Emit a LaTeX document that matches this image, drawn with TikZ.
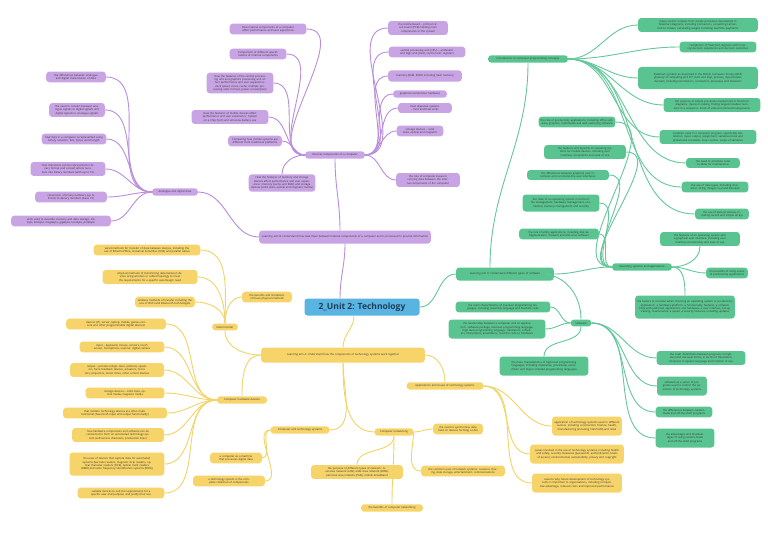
\documentclass[tikz,border=0pt]{standalone}
\usepackage{fontspec}
\setmainfont{Open Sans}
\begin{document}
\begin{tikzpicture}[x=1pt,y=-1pt,
 base/.style={rounded corners=3pt,align=center,inner xsep=1.8pt,inner ysep=2.3pt,font=\fontsize{2.7}{3.3}\selectfont,text=black!80},
 pn/.style={base,fill={rgb,255:red,200;green,164;blue,228}},
 gn/.style={base,fill={rgb,255:red,90;green,196;blue,145}},
 yn/.style={base,fill={rgb,255:red,246;green,212;blue,105}},
 pl/.style={draw={rgb,255:red,185;green,140;blue,220},line width=0.9pt},
 gl/.style={draw={rgb,255:red,100;green,200;blue,155},line width=0.9pt},
 yl/.style={draw={rgb,255:red,242;green,212;blue,100},line width=0.9pt}]
\useasboundingbox (0,0) rectangle (768,543);
\fill[white] (0,0) rectangle (768,543);
% center
\node[rounded corners=3pt,fill={rgb,255:red,90;green,180;blue,225},minimum width=115pt,minimum height=17pt,font=\bfseries\fontsize{8.5}{9}\selectfont,text={rgb,255:red,30;green,60;blue,90}] (c) at (362,307) {2\_Unit 2: Technology};
% ===== purple
\node[pn,text width=168pt,minimum height=13pt] (lb) at (345,237) {Learning aim B: Understand how data flows between internal components of a computer and is processed to provide information};
\node[pn,text width=56pt] (ic) at (335,155) {Internal components of a computer};
\node[pn,text width=42pt] (ad) at (175,192) {Analogue and digital data};
\node[pn,text width=73pt] (i1) at (268,29) {How internal components of a computer affect performance and user experience};
\node[pn,text width=53pt] (i2) at (258,54) {Comparison of different specifications of internal components};
\node[pn,text width=63pt] (i3) at (240,83) {How the features of the central processing unit and graphics processing unit affect performance and user experience: clock speed, cores, cache, multiple processing units in fixed, power consumption};
\node[pn,text width=73pt] (i4) at (230,117) {How the features of mobile devices affect performance and user experience: System on a Chip (SoC) and ultra-low battery use};
\node[pn,text width=50pt] (i5) at (255,141) {Comparing how mobile systems are different from traditional platforms};
\node[pn,text width=63pt] (i6) at (282,183) {How the features of memory and storage devices affect performance and user experience: memory (cache and RAM) and storage devices (solid state, optical and magnetic media)};
\node[pn,text width=56pt] (r1) at (418,28) {the motherboard -- printed circuit board (PCB) holding main components of the system};
\node[pn,text width=73pt] (r2) at (427,52) {central processing unit (CPU) -- arithmetic and logic unit (ALU), control unit, registers};
\node[pn,text width=70pt,minimum height=11pt] (r3) at (425,76) {memory (RAM, ROM) including flash memory};
\node[pn,text width=50pt] (r4) at (420,94) {graphics/sound/video hardware};
\node[pn,text width=50pt] (r5) at (425,108) {heat dispersal systems -- fans and heat sinks};
\node[pn,text width=43pt] (r6) at (420,131) {storage devices -- solid state, optical and magnetic};
\node[pn,text width=60pt] (r7) at (428,180) {the role of computer buses in carrying data between the internal components of the computer};
\node[pn,text width=56pt] (a1) at (76,77) {the differences between analogue and digital transmission of data};
\node[pn,text width=52pt] (a2) at (77,110) {the need to convert between analogue signals to digital signals and digital signals to analogue signals};
\node[pn,text width=61pt] (a3) at (74,139) {how data in a computer is represented using binary notation: bits, bytes, word length};
\node[pn,text width=71pt] (a4) at (68,169) {how characters can be represented in binary format and convert whole numbers into binary numbers (with up to 16)};
\node[pn,text width=68pt] (a5) at (71,197) {conversion of binary numbers (up to 8 bits) to denary numbers (base 10)};
\node[pn,text width=96pt] (a6) at (61,221) {units used to describe memory and data storage: bit, byte, kilobyte, megabyte, gigabyte, terabyte, petabyte};
\begin{scope}[pl]
\draw (c.north) ++(-22,0) to[out=90,in=-90] (lb.south);
\draw (lb.north) ++(-5,0) to[out=90,in=-90] (ic.south);
\draw (lb.west) to[out=180,in=0] (ad.east);
\foreach \n in {i1,i2,i3,i4,i5} \draw (ic.west) to[out=180,in=0] (\n.east);
\draw (ic.west) to[out=180,in=90] (i6.north);
\foreach \n in {r1,r2,r3,r4,r5,r6,r7} \draw (ic.east) to[out=0,in=180] (\n.west);
\foreach \n in {a1,a2,a3,a4,a5,a6} \draw (ad.west) to[out=180,in=0] (\n.east);
\end{scope}
% ===== green
\node[gn,text width=94pt,minimum height=13pt] (lc) at (505,274) {Learning aim C: Understand different types of software};
\node[gn,text width=76pt] (ip) at (528,59) {Introduction to computer programming concepts};
\node[gn,text width=116pt] (p1) at (698,25) {Inputs and/or outputs from simple processes represented in flowchart diagrams, including Connectors, converting Fahrenheit to Celsius, calculating weight, including overtime payments};
\node[gn,text width=73pt] (p2) at (718,47) {completion of flowchart diagrams with missing decision statements and decision outcomes};
\node[gn,text width=116pt,minimum height=22pt] (p3) at (698,78) {flowchart symbols as described in the British Computer Society (BCS) glossary of computing and ICT: start and stop, process, input/output, decision, including terminators, connectors, processes and decisions};
\node[gn,text width=93pt] (p4) at (712,105) {the purpose of simple processes represented in flowchart diagrams: decision making, finding largest/smallest numbers in a sequence, totals of values/commissions/payments};
\node[gn,text width=93pt] (p5) at (708,137) {Variables used in a computer program, specifically declaration, input, output, assignment, variables (local and global) and constants, loop counter, scope of variables};
\node[gn,text width=50pt] (p6) at (713,163) {the need to annotate code to allow for maintenance};
\node[gn,text width=63pt] (p7) at (715,187) {the use of data types, including character, string, integer, real and Boolean};
\node[gn,text width=50pt] (p8) at (722,214) {the use of data structures, including record and simple arrays};
\node[gn,text width=56pt] (os) at (642,267) {Operating systems and applications};
\node[gn,text width=73pt] (o1) at (577,122) {the role of productivity applications, including office software, graphics, multimedia and web authoring software};
\node[gn,text width=78pt] (o2) at (585,152) {the features and benefits of operating systems for mobile devices, including user interface, ecosystems and ease of use};
\node[gn,text width=78pt] (o3) at (568,175) {the differences between graphical user interfaces and command-line user interfaces};
\node[gn,text width=73pt,minimum height=17pt] (o4) at (561,203) {the roles of an operating system in terms of file management, hardware management, connection, memory management and security};
\node[gn,text width=76pt] (o5) at (559,234) {the role of utility applications, including disk defragmentation, firewalls and anti-virus software};
\node[gn,text width=76pt] (o6) at (700,239) {the features of an operating system with a graphical user interface, including user interface functionality and ease of use};
\node[gn,text width=38pt] (o7) at (727,273) {the benefits of using suites of productivity applications};
\node[gn,text width=96pt,minimum height=23pt] (o8) at (685,307) {the factors to consider when choosing an operating system or productivity application: a hardware platform, a functionality, features, a compatibility with preferred applications and hardware, a user interface, set-up, training, maintenance, a speed, a security features, including updates};
\node[gn,text width=17pt] (sw) at (581,323) {Software};
\node[gn,text width=91pt] (s1) at (503,307) {the main characteristics of low-level programming languages, including assembly language and machine code};
\node[gn,text width=93pt,minimum height=19pt] (s2) at (497,329) {the relationship between a computer and an application: software package, low-level programming language, high-level programming language, translators, compilers, interpreters, assemblers, machine code to hardware};
\node[gn,text width=85pt,minimum height=19pt] (s3) at (544,366) {the main characteristics of high-level programming languages, including imperative, procedural, event-driven and object-oriented programming languages};
\node[gn,text width=85pt] (s4) at (701,358) {the main distinctions between programs in high-level and low-level forms, in terms of translation, closeness to spoken language and intuition of use};
\node[gn,text width=46pt,minimum height=19pt] (s5) at (682,386) {software as a series of programs used to control the operation of technology systems};
\node[gn,text width=53pt] (s6) at (684,412) {the differences between custom-made and off-the-shelf programs};
\node[gn,text width=55pt,minimum height=19pt] (s7) at (685,438) {the advantages and disadvantages of using custom-made and off-the-shelf programs};
\begin{scope}[gl]
\draw (c.east) to[out=0,in=180] (lc.west);
\draw (lc.north) ++(-15,0) to[out=90,in=-90] (ip.south);
\draw (lc.east) to[out=0,in=180] (os.west);
\draw (lc.east) ++(-8,0) to[out=-10,in=90] (sw.north);
\foreach \n in {p1,p2,p3,p4,p5,p6,p7,p8} \draw (ip.east) to[out=0,in=180] (\n.west);
\foreach \n in {o1,o2,o3,o4,o5} \draw (os.west) to[out=180,in=0] (\n.east);
\draw (os.east) to[out=0,in=-90] (o6.south);
\draw (os.east) to[out=0,in=180] (o7.west);
\draw (os.east) to[out=0,in=90] (o8.north);
\foreach \n in {s1,s2} \draw (sw.west) to[out=180,in=0] (\n.east);
\draw (sw.south) to[out=-90,in=90] (s3.north);
\foreach \n in {s4,s5,s6,s7} \draw (sw.east) to[out=0,in=180] (\n.west);
\end{scope}
% ===== yellow
\node[yn,text width=160pt,minimum height=15pt] (la) at (343,355) {Learning aim A: Understand how the components of technology systems work together};
\node[yn,text width=22pt] (dt) at (225,327) {Data transfer};
\node[yn,text width=103pt] (d1) at (147,250) {wired methods for transfer of data between devices, including the use of Ethernet/fibre, Universal Serial Bus (USB) and parallel cables};
\node[yn,text width=91pt] (d2) at (150,277) {physical methods of transferring data between devices using wireless or cabled topology to meet the requirements for a specific user/design need};
\node[yn,text width=56pt] (d3) at (165,302) {wireless methods of transfer including the use of Wi-Fi and Bluetooth technologies};
\node[yn,text width=46pt] (d4) at (267,297) {the benefits and limitations of these physical methods};
\node[yn,text width=46pt] (hw) at (242,400) {Computer hardware devices};
\node[yn,text width=96pt] (h1) at (116,324) {devices (PC, server, laptop, mobile, games console and other programmable digital devices)};
\node[yn,text width=81pt] (h2) at (122,347) {input -- keyboard, mouse, sensors, touch screen, microphone, scanner, digital camera};
\node[yn,text width=90pt] (h3) at (117,370) {output -- printers (inkjet, laser, plotters), speakers, force feedback devices, actuators, monitors, projectors, motor drive, other control devices};
\node[yn,text width=75pt] (h4) at (125,393) {storage devices -- solid state, optical media, magnetic media};
\node[yn,text width=100pt] (h5) at (115,413) {that modern technology devices are often multifunctional (have both input and output functionality)};
\node[yn,text width=88pt] (h6) at (118,435) {how hardware components and software can be connected to form an automated technology system (self-service checkouts, production lines)};
\node[yn,text width=91pt,minimum height=23pt] (h7) at (117,464) {the uses of devices that capture data for automated systems (barcode readers, magnetic strip readers, optical character readers (OCR), optical mark readers (OMR) and radio frequency identification systems (RFID))};
\node[yn,text width=83pt] (h8) at (121,493) {suitable devices to suit the requirements for a specific user and purpose, and justify their use};
\node[yn,text width=55pt] (ct) at (300,430) {Computer and technology systems};
\node[yn,text width=48pt] (c1) at (236,458) {a computer as a machine that processes digital data};
\node[yn,text width=68pt] (c2) at (229,481) {a technology system is the complete collection of components};
\node[yn,text width=35pt] (cn) at (394,432) {Computer networking};
\node[yn,text width=46pt] (n1) at (458,429) {the need to synchronise data held on devices forming a LAN};
\node[yn,text width=80pt] (n2) at (463,471) {the common uses of network systems: resource sharing, data storage, entertainment, communications};
\node[yn,text width=88pt] (n3) at (357,472) {the purpose of different types of network: local area network (LAN), wide area network (WAN), personal area network (PAN), mobile broadband};
\node[yn,text width=58pt] (n4) at (392,508) {the benefits of computer networking};
\node[yn,text width=73pt] (ap) at (445,386) {Applications and issues of technology systems};
\node[yn,text width=66pt,minimum height=19pt] (e1) at (587,426) {application of technology systems used in different sectors, including construction, finance, health, manufacturing (including CAD/CAM) and retail};
\node[yn,text width=90pt,minimum height=19pt] (e2) at (577,454) {issues involved in the use of technology systems, including health and safety, security measures (passwords, authentication, levels of access), environmental, sustainability, privacy and copyright};
\node[yn,text width=86pt,minimum height=19pt] (e3) at (577,483) {reasons why future development of technology systems is important to organisations, including competitive advantage, reduced costs and improved performance};
\begin{scope}[yl]
\draw (c.south) ++(-8,0) to[out=-90,in=90] (la.north);
\draw (la.west) to[out=180,in=-90] (dt.south);
\draw (la.west) to[out=180,in=90] (hw.north);
\draw (la.south) to[out=-90,in=0] (ct.east);
\draw (la.south) to[out=-90,in=180] (cn.west);
\draw (la.east) to[out=0,in=90] (ap.north);
\foreach \n in {d1,d2,d3} \draw (dt.north) to[out=90,in=0] (\n.east);
\draw (dt.north) to[out=90,in=180] (d4.west);
\foreach \n in {h1,h2,h3,h4,h5,h6,h7,h8} \draw (hw.west) to[out=180,in=0] (\n.east);
\foreach \n in {c1,c2} \draw (ct.west) to[out=180,in=0] (\n.east);
\draw (cn.east) to[out=0,in=180] (n1.west);
\draw (cn.east) to[out=-90,in=180] (n2.west);
\draw (cn.south) to[out=-90,in=90] (n3.north);
\draw (cn.south) to[out=-90,in=90] (n4.north);
\foreach \n in {e1,e2,e3} \draw (ap.east) to[out=0,in=180] (\n.west);
\end{scope}
\end{tikzpicture}
\end{document}
